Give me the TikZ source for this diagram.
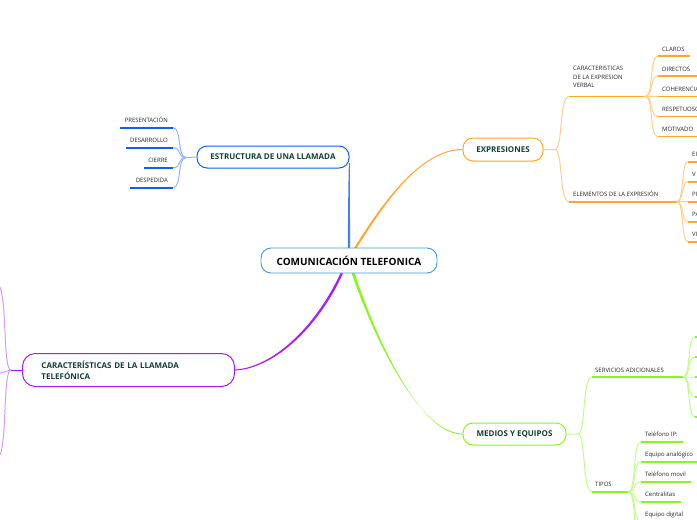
\documentclass[tikz,border=0pt]{standalone}
\usepackage{fontspec}
\setmainfont{Open Sans}
\usetikzlibrary{calc}
\definecolor{cblue}{HTML}{0F5FF5}
\definecolor{lblue}{HTML}{8FB4FA}
\definecolor{corange}{HTML}{FFA726}
\definecolor{lorange}{HTML}{FFD08A}
\definecolor{cgreen}{HTML}{8CF51E}
\definecolor{lgreen}{HTML}{C4FA8C}
\definecolor{cpurple}{HTML}{A61EF5}
\definecolor{lpurple}{HTML}{D79AFA}
\definecolor{cmain}{HTML}{3C9BDC}
\definecolor{ctext}{HTML}{123F38}
\tikzset{
 topic/.style={draw=#1,line width=1pt,rounded corners=10pt,fill=white,inner sep=0pt,font=\fontsize{8}{11}\selectfont\bfseries,text=ctext,align=left},
 leaf/.style={inner sep=0pt,font=\fontsize{6}{8.6}\selectfont,text=black!85,align=left,anchor=base west},
 leafthree/.style={leaf,anchor=south west},
 leafr/.style={leaf,anchor=base east},
 twig/.style={line width=1pt,line cap=round},
 bar/.style={line width=1.9pt}
}
\begin{document}
\begin{tikzpicture}[x=1pt,y=-1pt]
\useasboundingbox (0,0) rectangle (697,520);
\clip (0,0) rectangle (697,520);
\coordinate (cb) at (349,248);
\coordinate (co) at (355.5,248);
\coordinate (cp) at (342,273);
\coordinate (cg) at (353,273);
\node[topic=cblue,minimum width=152pt,minimum height=22pt] (est) at (273,157) {ESTRUCTURA DE UNA LLAMADA};
\node[topic=corange,minimum width=80pt,minimum height=23pt] (exp) at (503,149.5) {EXPRESIONES};
\node[topic=cgreen,minimum width=103pt,minimum height=22pt] (med) at (514.5,434) {MEDIOS Y EQUIPOS};
\node[topic=cpurple,minimum width=212pt,minimum height=33pt,text width=174pt,rounded corners=13pt] (car) at (128.5,370) {CARACTERÍSTICAS DE LA LLAMADA\\TELEFÓNICA};
% tapered main branches
\fill[cblue!80] ($(est.east)+(-0.6,6)$) .. controls (348.6,175) and (348,200) .. ($(cb)+(-1.1,0)$) -- ($(cb)+(1.1,0)$) .. controls (350,200) and (349.6,175) .. ($(est.east)+(0.5,6)$) -- cycle;
\fill[corange] ($(exp.west)+(0,-0.5)$) .. controls (420,149) and (381,205) .. ($(co)+(-1.4,0)$) -- ($(co)+(1.2,0)$) .. controls (383,205.5) and (420,150) .. ($(exp.west)+(0,0.5)$) -- cycle;
\fill[cgreen] ($(med.west)+(0,-0.5)$) .. controls (423,433.5) and (379,352) .. ($(cg)+(-1.5,0)$) -- ($(cg)+(1.5,0)$) .. controls (381,352) and (423,434.5) .. ($(med.west)+(0,0.5)$) -- cycle;
\fill[cpurple] ($(car.east)+(0,-0.5)$) .. controls (272,367.5) and (315,328) .. ($(cp)+(-1.4,0)$) -- ($(cp)+(1.2,0)$) .. controls (317,330) and (273,368.5) .. ($(car.east)+(0,0.5)$) -- cycle;
\node[draw=cmain,line width=0.9pt,rounded corners=10pt,fill=white,minimum width=176pt,minimum height=25pt,inner sep=0pt,font=\fontsize{10}{12}\selectfont\bfseries,text=black] (main) at (349,260.5) {COMUNICACIÓN TELEFONICA};
% blue leaves
\draw[lblue,twig] (est.west) -- (186,157.5);
\foreach \n/\t/\xa/\y in {a/PRESENTACIÓN/120/127.7,b/DESARROLLO/126/147.7,c/CIERRE/144/167.7,d/DESPEDIDA/130/187.7}{
 \coordinate (bl\n) at (\xa,\y);
 \coordinate (br\n) at (173,\y);
 \draw[lblue,twig] (br\n) .. controls (182,\y) and (177,157.5) .. (186,157.5);
 \draw[cblue,bar] (bl\n) -- (br\n);
 \node[leafr] at (168,\y-5) {\t};
}
% orange
\coordinate (oa) at (569,96.5);
\coordinate (ob) at (569,201.7);
\draw[lorange,twig] (exp.east) -- (555,149.5) .. controls (563,149.5) and (559,96.5) .. (oa);
\draw[lorange,twig] (555,149.5) .. controls (563,149.5) and (559,201.7) .. (ob);
\draw[corange,bar] (oa) -- (645,96.5);
\draw[corange,bar] (ob) -- (677,201.7);
\node[leafthree] at (573,88) {CARACTERISTICAS\\DE LA EXPRESION\\VERBAL};
\node[leaf] at (573,196.7) {ELEMENTOS DE LA EXPRESIÓN};
\foreach \t/\xb/\y in {CLAROS/690/56,DIRECTOS/697/76,COHERENCIA/697/96.5,RESPETUOSO/697/116.5,MOTIVADO/697/136.5}{
 \draw[lorange,twig] (645,96.5) .. controls (654,96.5) and (649,\y) .. (658,\y);
 \draw[corange,bar] (658,\y) -- (\xb,\y);
 \node[leaf] at (662,\y-5) {\t};
}
\foreach \t/\y in {EI/161.7,V/181.7,PI/201.7,PA/221.7,VI/241.7}{
 \draw[lorange,twig] (677,201.7) .. controls (684,201.7) and (681,\y) .. (688,\y);
 \draw[corange,bar] (688,\y) -- (697,\y);
 \node[leaf] at (692,\y-5) {\t};
}
% green
\draw[lgreen,twig] (med.east) -- (578,434) .. controls (586,434) and (582,377) .. (592,377);
\draw[lgreen,twig] (578,434) .. controls (586,434) and (582,491.7) .. (592,491.7);
\draw[cgreen,bar] (592,377) -- (683,377);
\draw[cgreen,bar] (592,491.7) -- (628,491.7);
\node[leaf] at (595,372) {SERVICIOS ADICIONALES};
\node[leaf] at (595,486.7) {TIPOS};
\foreach \y in {337,357,377,397,417}{
 \draw[lgreen,twig] (683,377) .. controls (691,377) and (687,\y) .. (695,\y);
 \draw[cgreen,bar] (695,\y) -- (697,\y);
}
\foreach \t/\xb/\y in {Teléfono IP:/683/441.7,Equipo analógico/697/461.7,Teléfono movil/691/481.7,Centralitas/681/501.7,Equipo digital/697/521.7}{
 \draw[lgreen,twig] (628,491.7) .. controls (637,491.7) and (632,\y) .. (641,\y);
 \draw[cgreen,bar] (641,\y) -- (\xb,\y);
 \node[leaf] at (645,\y-5) {\t};
}
\draw[lgreen,twig] (628,491.7) .. controls (637,491.7) and (632,541) .. (641,541);
% purple
\draw[lpurple,twig] (11,370) .. controls (3,370) and (7,305) .. (0,287);
\draw[lpurple,twig] (11,370) .. controls (3,370) and (7,440) .. (0,455);
\draw[lpurple,twig] (11,370) -- (0,373);
\draw[cpurple,line width=1pt] (car.west) -- (11,370);
\end{tikzpicture}
\end{document}
